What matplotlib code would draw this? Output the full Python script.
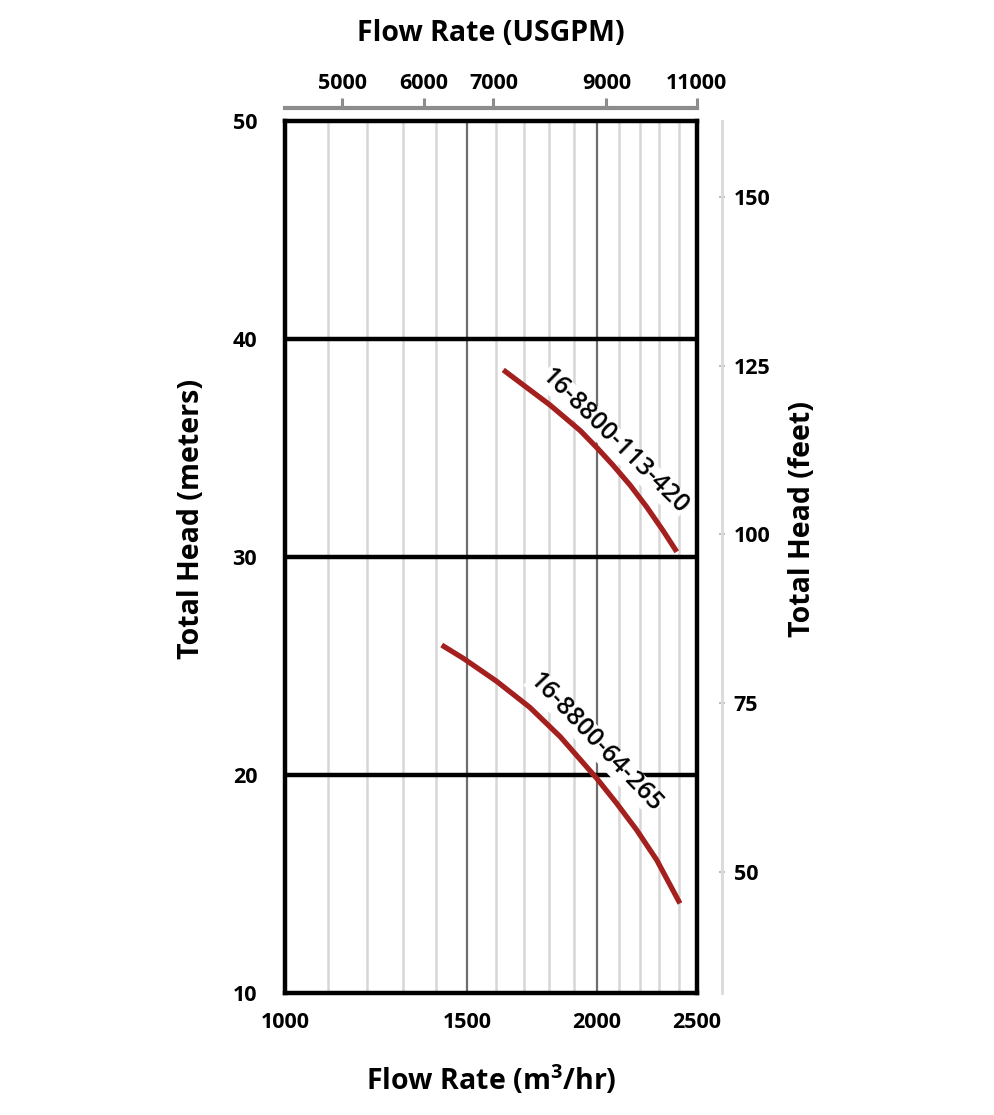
import matplotlib.pyplot as plt
from matplotlib.ticker import FixedLocator, NullLocator

plt.rcParams['font.family'] = ['Open Sans', 'DejaVu Sans']
plt.rcParams['mathtext.fontset'] = 'custom'
plt.rcParams['mathtext.rm'] = 'Open Sans'
plt.rcParams['mathtext.bf'] = 'Open Sans:bold'

# pump curves (flow m3/hr, head m)
flow_a = [1625, 1699, 1803, 1928, 2007, 2075, 2154, 2235, 2319, 2390]
head_a = [38.58, 37.89, 36.97, 35.8, 34.95, 34.2, 33.3, 32.3, 31.2, 30.24]
flow_b = [1417, 1487, 1601, 1724, 1844, 2000, 2091, 2186, 2286, 2407]
head_b = [25.96, 25.35, 24.3, 23.1, 21.76, 19.85, 18.70, 17.48, 16.10, 14.11]
label_a = '16-8800-113-420'
label_b = '16-8800-64-265'

x_ticks = [1000, 1500, 2000, 2500]
y_ticks = [10, 20, 30, 40, 50]
gpm_ticks = [5000, 6000, 7000, 9000, 11000]
ft_ticks = [50, 75, 100, 125, 150]
minor_x = [1100, 1200, 1300, 1400, 1600, 1700, 1800, 1900, 2100, 2200, 2300, 2400]
GPM_PER_M3H = 4.4029

fig = plt.figure(figsize=(9.94, 11.15), dpi=100)
ax = fig.add_axes([0.2867, 0.1094, 0.4145, 0.7821])
ax.set_xscale('log')
ax.set_xlim(1000, 2500)
ax.set_ylim(10, 50)

# vertical grid
for v in minor_x:
    ax.axvline(v, color='#d6d6d6', lw=1.8, zorder=1)
for v in [1500, 2000]:
    ax.axvline(v, color='#6e6e6e', lw=1.6, zorder=1)
# horizontal grid
for h in [20, 30, 40]:
    ax.axhline(h, color='black', lw=3.2, zorder=2)

ax.plot(flow_a, head_a, color='#a3201f', lw=3.8, solid_capstyle='butt', zorder=3)
ax.plot(flow_b, head_b, color='#a3201f', lw=3.8, solid_capstyle='butt', zorder=3)

box = dict(facecolor='white', edgecolor='none', pad=0.3)
ax.text(2080, 35.3, label_a, rotation=-44.6, fontsize=18, fontweight='semibold',
        ha='center', va='center', rotation_mode='anchor', zorder=2.5, bbox=box)
ax.text(1995, 21.5, label_b, rotation=-46.5, fontsize=18, fontweight='semibold',
        ha='center', va='center', rotation_mode='anchor', zorder=2.5, bbox=box)

for s in ax.spines.values():
    s.set_linewidth(3.2)
    s.set_color('black')
    s.set_zorder(5)

ax.xaxis.set_major_locator(FixedLocator(x_ticks))
ax.xaxis.set_minor_locator(NullLocator())
ax.set_xticklabels([str(t) for t in x_ticks])
ax.set_yticks(y_ticks)
ax.tick_params(axis='both', length=0, labelsize=15.5)
ax.tick_params(axis='x', pad=14)
ax.tick_params(axis='y', pad=20)
for lbl in ax.get_xticklabels() + ax.get_yticklabels():
    lbl.set_fontweight('bold')
ax.set_xlabel(r'Flow Rate (m$^\mathbf{3}$/hr)', fontsize=20.5, fontweight='bold', labelpad=21)
ax.set_ylabel('Total Head (meters)', fontsize=20.5, fontweight='bold')
ax.yaxis.set_label_coords(-0.1917, 0.5435)

# top axis: USGPM
top = ax.twiny()
top.set_xscale('log')
top.set_xlim(1000, 2500)
top.xaxis.set_major_locator(FixedLocator([g / GPM_PER_M3H for g in gpm_ticks]))
top.xaxis.set_minor_locator(NullLocator())
top.set_xticklabels([str(g) for g in gpm_ticks])
for k in ['left', 'right', 'bottom']:
    top.spines[k].set_visible(False)
top.spines['top'].set_position(('outward', 9.5))
top.spines['top'].set_color('#8c8c8c')
top.spines['top'].set_linewidth(3)
top.tick_params(axis='x', direction='out', length=7, width=2.2, color='#8c8c8c',
                labelsize=15.5, pad=3)
for lbl in top.get_xticklabels():
    lbl.set_fontweight('bold')
top.set_xlabel('Flow Rate (USGPM)', fontsize=20.5, fontweight='bold')
top.xaxis.set_label_coords(0.5, 1.0915)

# right axis: feet
right = ax.twinx()
right.set_ylim(32.07, 161.26)
right.set_yticks(ft_ticks)
for k in ['left', 'top', 'bottom']:
    right.spines[k].set_visible(False)
right.spines['right'].set_position(('outward', 18))
right.spines['right'].set_color('#d9d9d9')
right.spines['right'].set_linewidth(2)
right.tick_params(axis='y', direction='inout', length=5, width=1.5, color='#bfbfbf',
                  labelsize=15.5, pad=6)
for lbl in right.get_yticklabels():
    lbl.set_fontweight('bold')
right.set_ylabel('Total Head (feet)', fontsize=20.5, fontweight='bold')
right.yaxis.set_label_coords(1.221, 0.5435)

fig.savefig('out.png', dpi=100)
